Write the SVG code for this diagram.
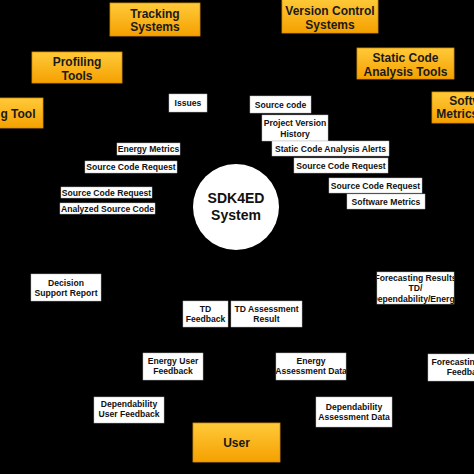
<svg xmlns="http://www.w3.org/2000/svg" width="474" height="474" viewBox="0 0 474 474">
<defs>
<linearGradient id="og" x1="0" y1="0" x2="0" y2="1">
<stop offset="0" stop-color="#FFCA3A"/>
<stop offset="1" stop-color="#F5A000"/>
</linearGradient>
<clipPath id="cEA"><rect x="276" y="353" width="70" height="27"/></clipPath>
<clipPath id="cFR"><rect x="377" y="272" width="77" height="32"/></clipPath>
</defs>
<style>
.ob{fill:url(#og);stroke:#D98F00;stroke-width:0.8}
.ot{font-family:"Liberation Sans",Arial,sans-serif;font-weight:bold;font-size:12px;fill:#1a1a1a;text-anchor:middle}
.wb{fill:#ffffff;stroke:#bbbbbb;stroke-width:0.5}
.wt{font-family:"Liberation Sans",Arial,sans-serif;font-weight:bold;font-size:8.6px;fill:#111111;text-anchor:middle}
.ct{font-family:"Liberation Sans",Arial,sans-serif;font-weight:bold;font-size:14px;fill:#111111;text-anchor:middle}
</style>
<rect x="0" y="0" width="474" height="474" fill="#000000"/>
<g id="connectors"></g>

<g id="tracking-systems"><rect class="ob" x="110" y="3" width="90" height="33"/><text class="ot" x="155" y="17.5">Tracking</text><text class="ot" x="155" y="30.5">Systems</text></g>
<g id="profiling-tools"><rect class="ob" x="32" y="52" width="90" height="31"/><text class="ot" x="77" y="65.5">Profiling</text><text class="ot" x="77" y="79.5">Tools</text></g>
<g id="g-tool"><rect class="ob" x="-5" y="98" width="48" height="30"/><text class="ot" x="35.5" y="118.3" style="text-anchor:end">g Tool</text></g>
<g id="version-control-systems"><rect class="ob" x="282" y="-2" width="96" height="35"/><text class="ot" x="330" y="14.5">Version Control</text><text class="ot" x="330" y="28.5">Systems</text></g>
<g id="static-code-analysis-tools"><rect class="ob" x="357" y="48" width="97" height="31"/><text class="ot" x="405.5" y="61.5">Static Code</text><text class="ot" x="405.5" y="75.5">Analysis Tools</text></g>
<g id="software-metrics-tools"><rect class="ob" x="432" y="92" width="50" height="31"/><text class="ot" x="474.5" y="104.5">Software</text><text class="ot" x="474.5" y="117.5">Metrics Tools</text></g>
<g id="user"><rect class="ob" x="193" y="423" width="87" height="39"/><text class="ot" x="236.5" y="447.3">User</text></g>

<g id="sdk4ed-system"><circle cx="236" cy="207" r="43" fill="#ffffff"/><text class="ct" x="236" y="203">SDK4ED</text><text class="ct" x="236" y="220">System</text></g>

<g id="issues"><rect class="wb" x="169" y="94" width="38" height="18"/><text class="wt" x="188" y="106">Issues</text></g>
<g id="source-code"><rect class="wb" x="250" y="96" width="61" height="17"/><text class="wt" x="280.5" y="108">Source code</text></g>
<g id="project-version-history"><rect class="wb" x="262" y="115" width="66" height="26"/><text class="wt" x="295" y="126">Project Version</text><text class="wt" x="295" y="137">History</text></g>
<g id="static-code-analysis-alerts"><rect class="wb" x="272" y="141" width="117" height="15"/><text class="wt" x="330.5" y="152">Static Code Analysis Alerts</text></g>
<g id="source-code-request-r1"><rect class="wb" x="294" y="158" width="94" height="15"/><text class="wt" x="341" y="169">Source Code Request</text></g>
<g id="source-code-request-r2"><rect class="wb" x="329" y="178" width="93" height="15"/><text class="wt" x="375.5" y="189">Source Code Request</text></g>
<g id="software-metrics"><rect class="wb" x="347" y="194" width="78" height="15"/><text class="wt" x="386" y="204.8">Software Metrics</text></g>
<g id="energy-metrics"><rect class="wb" x="117" y="143" width="63" height="12"/><text class="wt" x="148.5" y="152">Energy Metrics</text></g>
<g id="source-code-request-l1"><rect class="wb" x="85" y="161" width="92" height="12"/><text class="wt" x="131" y="170">Source Code Request</text></g>
<g id="source-code-request-l2"><rect class="wb" x="61" y="187" width="91" height="11"/><text class="wt" x="106.5" y="195.8">Source Code Request</text></g>
<g id="analyzed-source-code"><rect class="wb" x="60" y="203" width="95" height="11"/><text class="wt" x="107.5" y="211.6">Analyzed Source Code</text></g>
<g id="decision-support-report"><rect class="wb" x="31" y="274" width="70" height="27"/><text class="wt" x="66" y="286">Decision</text><text class="wt" x="66" y="296">Support Report</text></g>
<g id="td-feedback"><rect class="wb" x="183" y="301" width="45" height="26"/><text class="wt" x="205.5" y="312">TD</text><text class="wt" x="205.5" y="322">Feedback</text></g>
<g id="td-assessment-result"><rect class="wb" x="231" y="301" width="71" height="26"/><text class="wt" x="266.5" y="312">TD Assessment</text><text class="wt" x="266.5" y="322">Result</text></g>
<g id="energy-user-feedback"><rect class="wb" x="143" y="353" width="60" height="27"/><text class="wt" x="173" y="364">Energy User</text><text class="wt" x="173" y="374">Feedback</text></g>
<g id="energy-assessment-data"><rect class="wb" x="276" y="353" width="70" height="27"/><g clip-path="url(#cEA)"><text class="wt" x="311" y="364">Energy</text><text class="wt" x="311" y="374">Assessment Data</text></g></g>
<g id="forecasting-results"><rect class="wb" x="377" y="272" width="77" height="32"/><g clip-path="url(#cFR)"><text class="wt" x="415.5" y="280.5">Forecasting Results</text><text class="wt" x="415.5" y="291">TD/</text><text class="wt" x="415.5" y="301.5">Dependability/Energy</text></g></g>
<g id="forecasting-user-feedback"><rect class="wb" x="428" y="354" width="60" height="27"/><text class="wt" x="466.5" y="365">Forecasting User</text><text class="wt" x="466.5" y="375">Feedback</text></g>
<g id="dependability-user-feedback"><rect class="wb" x="94" y="397" width="70" height="26"/><text class="wt" x="129" y="407">Dependability</text><text class="wt" x="129" y="417">User Feedback</text></g>
<g id="dependability-assessment-data"><rect class="wb" x="316" y="397" width="76" height="30"/><text class="wt" x="354" y="410">Dependability</text><text class="wt" x="354" y="420">Assessment Data</text></g>
</svg>
